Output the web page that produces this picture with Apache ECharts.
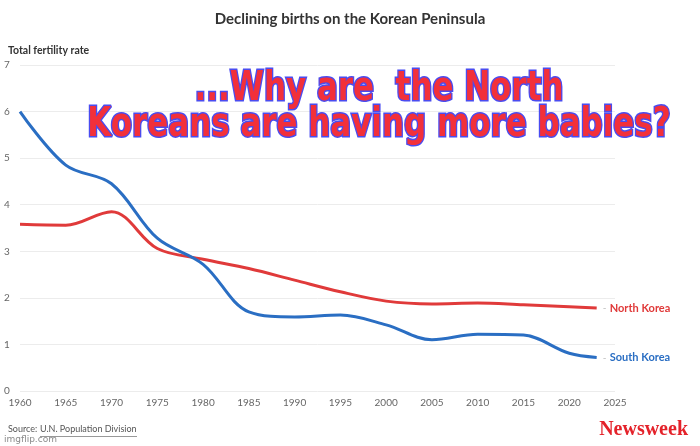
<!DOCTYPE html>
<html>
<head>
<meta charset="utf-8">
<script src="https://cdn.jsdelivr.net/npm/echarts@6/dist/echarts.min.js"></script>
<style>
html, body { margin: 0; padding: 0; background: #fff; }
#chart { width: 700px; height: 446px; }
</style>
</head>
<body>
<div id="chart"></div>
<script>
// years
var years = [1960, 1965, 1970, 1975, 1980, 1985, 1990, 1995, 2000, 2005, 2010, 2015, 2020, 2023];
var southKorea = [6.0, 4.85, 4.45, 3.28, 2.72, 1.70, 1.59, 1.63, 1.42, 1.10, 1.22, 1.20, 0.81, 0.72];
var northKorea = [3.58, 3.56, 3.85, 3.06, 2.83, 2.63, 2.38, 2.13, 1.93, 1.87, 1.89, 1.85, 1.81, 1.78];
var yTicks = [0, 1, 2, 3, 4, 5, 6, 7];

var RED = '#e03a3a';
var BLUE = '#2a6ec3';
var FONT = 'Lato, "Noto Sans", sans-serif';

function pairs(vals) {
  return years.map(function (y, i) { return [y, vals[i]]; });
}

function endLabel(color) {
  return {
    show: true,
    distance: 6,
    formatter: '{d|-} {n|{a}}',
    rich: {
      d: { color: '#bbb', fontSize: 10, fontFamily: FONT },
      n: { color: color, fontSize: 11, fontWeight: 'bold', fontFamily: FONT }
    }
  };
}

var chart = echarts.init(document.getElementById('chart'));
var option = {
  animation: false,
  backgroundColor: '#fff',
  title: {
    text: 'Declining births on the Korean Peninsula',
    left: 'center',
    top: 7,
    textStyle: { fontFamily: FONT, fontSize: 15, fontWeight: 'bold', color: '#333' }
  },
  grid: { left: 20, right: 85, top: 65, bottom: 55, containLabel: false },
  xAxis: {
    type: 'value',
    min: 1960,
    max: 2025,
    interval: 5,
    axisLine: { show: false },
    axisTick: { show: false },
    splitLine: { show: false },
    axisLabel: { color: '#666', fontSize: 10, fontFamily: FONT, margin: 7, formatter: function (v) { return String(v); } }
  },
  yAxis: {
    type: 'value',
    min: yTicks[0],
    max: yTicks[yTicks.length - 1],
    interval: 1,
    axisLine: { show: false },
    axisTick: { show: false },
    splitLine: { lineStyle: { color: '#ececec', width: 1 } },
    axisLabel: { color: '#666', fontSize: 10, fontFamily: FONT, margin: 8, align: 'left', padding: [0, 0, 0, -8] }
  },
  series: [
    {
      name: 'North Korea',
      type: 'line',
      data: pairs(northKorea),
      smooth: 0.35,
      showSymbol: false,
      lineStyle: { color: RED, width: 3 },
      itemStyle: { color: RED },
      endLabel: endLabel(RED)
    },
    {
      name: 'South Korea',
      type: 'line',
      data: pairs(southKorea),
      smooth: 0.35,
      showSymbol: false,
      lineStyle: { color: BLUE, width: 3 },
      itemStyle: { color: BLUE },
      endLabel: endLabel(BLUE)
    }
  ],
  graphic: [
    {
      type: 'text', left: 8, top: 45,
      style: { text: 'Total fertility rate', fontFamily: FONT, fontSize: 10.5, fontWeight: 'bold', fill: '#333' }
    },
    {
      type: 'text', x: 379, y: 72, z: 100, scaleX: 0.86,
      style: {
        text: '...Why are  the North\nKoreans are having more babies?',
        align: 'center',
        lineHeight: 36,
        fontFamily: '"DejaVu Sans Condensed", "DejaVu Sans", sans-serif',
        fontSize: 40,
        fontWeight: 'bold',
        fill: '#f2303a',
        stroke: '#4a4cf0',
        lineWidth: 3,
        shadowColor: '#5a5cff',
        shadowBlur: 6
      }
    },
    {
      type: 'text', left: 8, top: 425,
      style: { text: 'Source: ', fontFamily: FONT, fontSize: 9, fill: '#555' }
    },
    {
      type: 'text', left: 40, top: 425,
      style: { text: 'U.N. Population Division', fontFamily: FONT, fontSize: 9, fill: '#555' }
    },
    {
      type: 'rect', shape: { x: 40, y: 436, width: 97, height: 0.8 },
      style: { fill: '#777' }
    },
    {
      type: 'text', left: 4, top: 435,
      style: { text: 'imgflip.com', fontFamily: '"DejaVu Sans", sans-serif', fontSize: 9, fill: '#8a8a8a' }
    },
    {
      type: 'text', right: 12, top: 420,
      style: { text: 'Newsweek', fontFamily: '"Liberation Serif", serif', fontSize: 20, fontWeight: 'bold', fill: '#e4222a' }
    }
  ]
};
chart.setOption(option);
</script>
</body>
</html>
